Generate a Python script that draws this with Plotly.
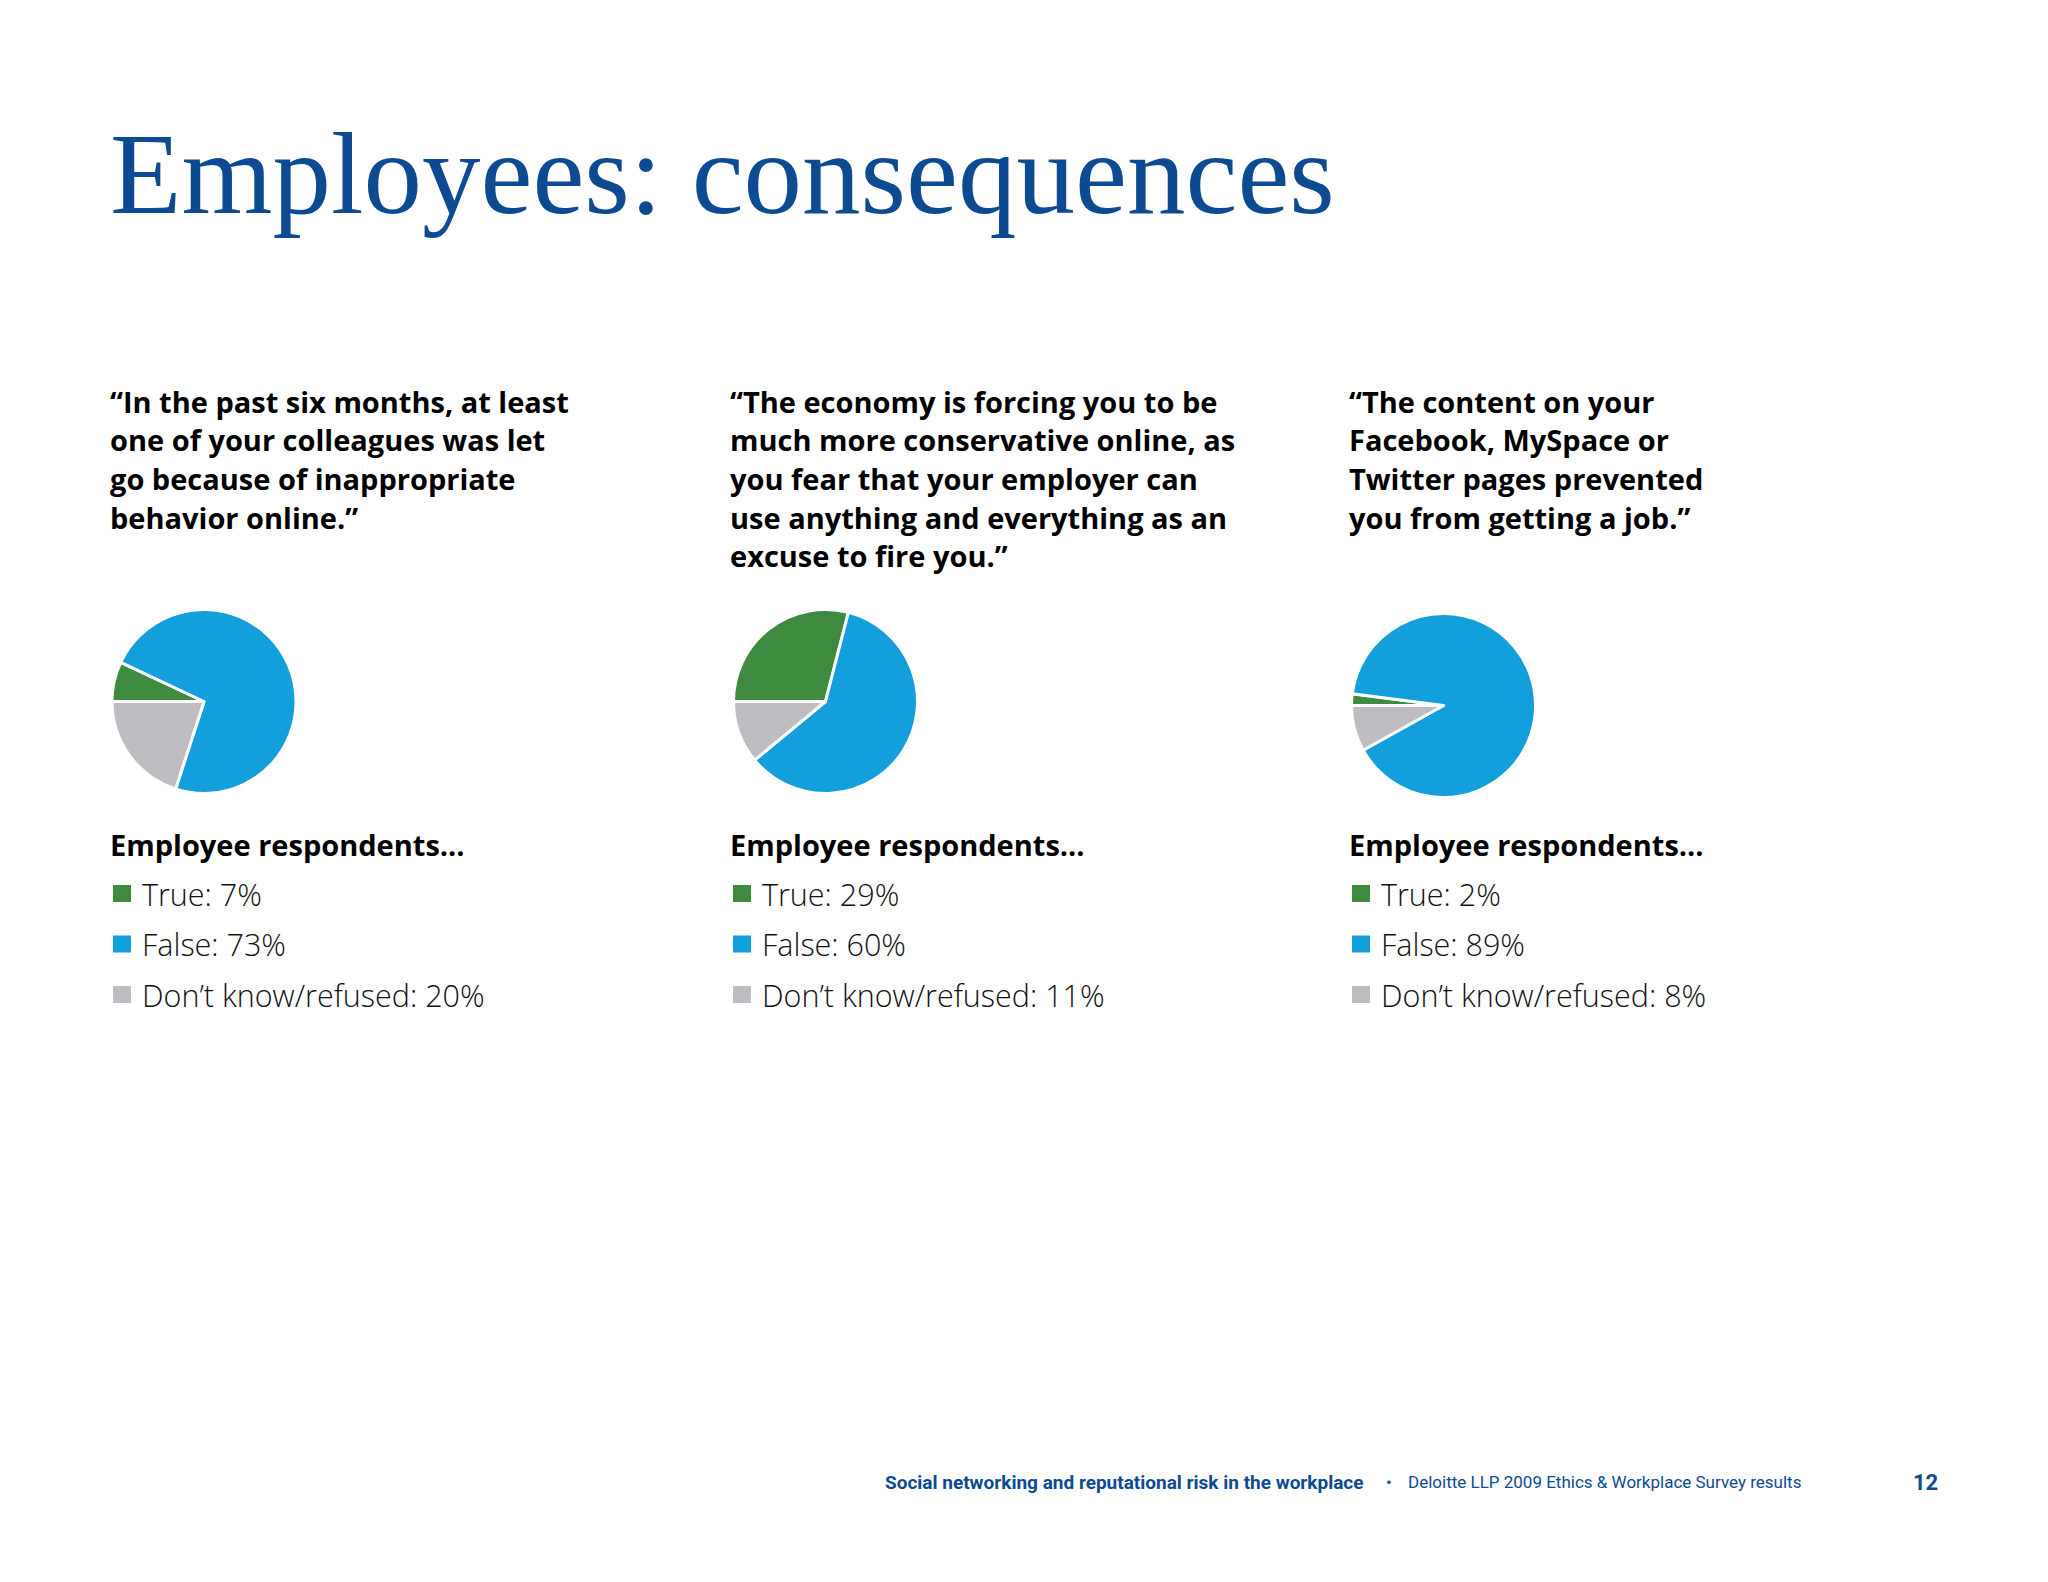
import plotly.graph_objects as go

# ---------------- data ----------------
categories = ["True", "False", "Don\u2019t know/refused"]
q1_values = [7, 73, 20]
q2_values = [29, 60, 11]
q3_values = [2, 89, 8]
series_values = [q1_values, q2_values, q3_values]

question_lines = [
    ["\u201cIn the past six months, at least",
     "one of your colleagues was let",
     "go because of inappropriate",
     "behavior online.\u201d"],
    ["\u201cThe economy is forcing you to be",
     "much more conservative online, as",
     "you fear that your employer can",
     "use anything and everything as an",
     "excuse to fire you.\u201d"],
    ["\u201cThe content on your",
     "Facebook, MySpace or",
     "Twitter pages prevented",
     "you from getting a job.\u201d"],
]
legend_header = "Employee respondents..."
title_text = "Employees: consequences"
footer_bold = "Social networking and reputational risk in the workplace"
footer_regular = "Deloitte LLP 2009 Ethics & Workplace Survey results"
page_number = "12"

# ---------------- style ----------------
W, H = 2048, 1582
colors = ["#3E8B3F", "#129FDB", "#BDBDC1"]
navy = "#0C4A92"
sans_bold = "Open Sans, Noto Sans, sans-serif"
sans_light = "Open Sans, Noto Sans, sans-serif"

def px(x):
    return x / W

def py(y):
    return 1 - y / H

col_x = [111, 731, 1350]
pie_centers = [(204, 701.5), (825.5, 701.5), (1443.5, 705.5)]
pie_r = 92

fig = go.Figure()

for i, vals in enumerate(series_values):
    cx, cy = pie_centers[i]
    fig.add_trace(go.Pie(
        labels=categories,
        values=vals,
        sort=False,
        direction="clockwise",
        rotation=270,
        marker=dict(colors=colors, line=dict(color="white", width=3)),
        textinfo="none",
        hoverinfo="label+percent",
        domain=dict(x=[px(cx - pie_r), px(cx + pie_r)],
                    y=[py(cy + pie_r), py(cy - pie_r)]),
        showlegend=False,
    ))

annotations = []
shapes = []

# title
annotations.append(dict(
    x=px(108), y=py(174), xref="paper", yref="paper", xanchor="left", yanchor="middle",
    text=title_text, showarrow=False,
    font=dict(family="Liberation Serif, serif", size=117, color=navy),
))

q_first_y = 401
q_step = 38.7
for c in range(3):
    for j, line in enumerate(question_lines[c]):
        annotations.append(dict(
            x=px(col_x[c] - 3), y=py(q_first_y + j * q_step), xref="paper", yref="paper",
            xanchor="left", yanchor="middle", showarrow=False,
            text="<b>" + line + "</b>",
            font=dict(family=sans_bold, size=29, color="#000000"),
        ))
    # legend header
    annotations.append(dict(
        x=px(col_x[c] - 3), y=py(844), xref="paper", yref="paper",
        xanchor="left", yanchor="middle", showarrow=False,
        text="<b>" + legend_header + "</b>",
        font=dict(family=sans_bold, size=29, color="#000000"),
    ))
    item_y = [893.5, 944, 994.5]
    for k, cat in enumerate(categories):
        y = item_y[k]
        shapes.append(dict(
            type="rect", xref="paper", yref="paper",
            x0=px(col_x[c] + 2), x1=px(col_x[c] + 20),
            y0=py(y + 8.5), y1=py(y - 8.5),
            fillcolor=colors[k], line=dict(width=0),
        ))
        annotations.append(dict(
            x=px(col_x[c] + 29), y=py(y), xref="paper", yref="paper",
            xanchor="left", yanchor="middle", showarrow=False,
            text=f"{cat}: {series_values[c][k]}%",
            font=dict(family=sans_light, size=30.5, color="#111111", weight=300),
        ))

# footer
annotations.append(dict(
    x=px(883), y=py(1482), xref="paper", yref="paper", xanchor="left", yanchor="middle",
    showarrow=False, text="<b>" + footer_bold + "</b>",
    font=dict(family="Roboto, sans-serif", size=19, color=navy),
))
annotations.append(dict(
    x=px(1389), y=py(1482), xref="paper", yref="paper", xanchor="center", yanchor="middle",
    showarrow=False, text="\u2022",
    font=dict(family="Roboto, sans-serif", size=17, color=navy),
))
annotations.append(dict(
    x=px(1406), y=py(1482), xref="paper", yref="paper", xanchor="left", yanchor="middle",
    showarrow=False, text=footer_regular,
    font=dict(family="Roboto, sans-serif", size=17, color=navy),
))
annotations.append(dict(
    x=px(1911), y=py(1482), xref="paper", yref="paper", xanchor="left", yanchor="middle",
    showarrow=False, text="<b>" + page_number + "</b>",
    font=dict(family="Roboto, sans-serif", size=22, color=navy),
))

fig.update_layout(
    width=W, height=H,
    margin=dict(l=0, r=0, t=0, b=0),
    paper_bgcolor="white", plot_bgcolor="white",
    annotations=annotations, shapes=shapes,
    showlegend=False,
)

fig.write_html(
    "out.html",
    config={"displayModeBar": False},
    post_script="document.body.style.margin='0';document.body.style.overflow='hidden';",
)
